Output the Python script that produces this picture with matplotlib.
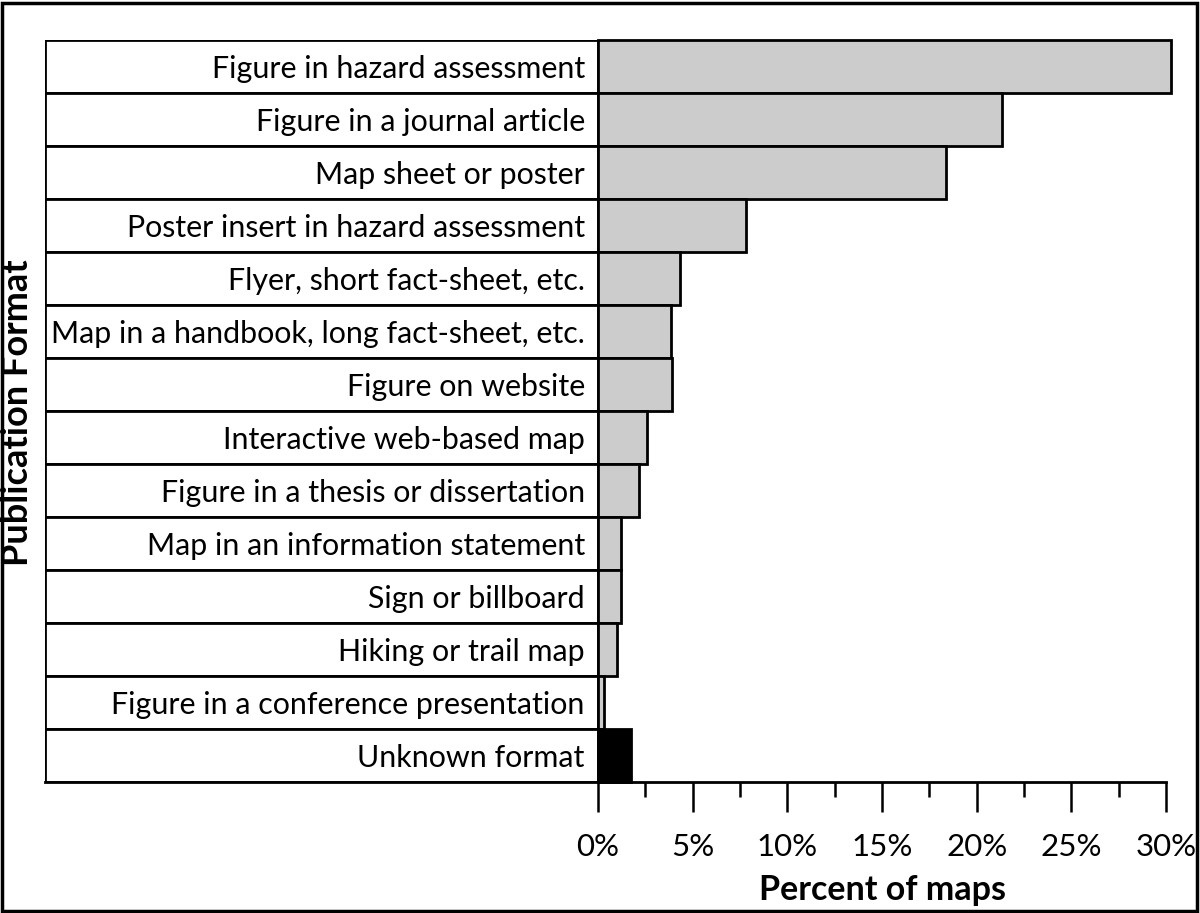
import numpy as np
import matplotlib.pyplot as plt
from matplotlib.patches import Rectangle

plt.rcParams['font.family'] = ['Lato', 'DejaVu Sans']

# Datos
formatos = ['Figure in hazard assessment', 'Figure in a journal article', 'Map sheet or poster',
            'Poster insert in hazard assessment', 'Flyer, short fact-sheet, etc.',
            'Map in a handbook, long fact-sheet, etc.', 'Figure on website',
            'Interactive web-based map', 'Figure in a thesis or dissertation',
            'Map in an information statement', 'Sign or billboard', 'Hiking or trail map',
            'Figure in a conference presentation', 'Unknown format']
porcentajes = [30.27, 21.34, 18.37, 7.83, 4.33, 3.87, 3.9, 2.57, 2.17, 1.2, 1.2, 1.02, 0.3, 1.74]
colores = ['#cccccc'] * 13 + ['black']
ticks = [0, 5, 10, 15, 20, 25, 30]
ticks_menores = [2.5, 7.5, 12.5, 17.5, 22.5, 27.5]

xmin = -29.21   # ancho de la columna de etiquetas
xmax = 30

fig = plt.figure(figsize=(12, 9.13), dpi=100)
ax = fig.add_axes([45/1200, 1-782/913, (1166-45)/1200, (782-40)/913])

y = np.arange(len(formatos))
# cajas de etiquetas
ax.barh(y, [0 - xmin]*len(y), left=xmin, height=1, color='white', edgecolor='black', linewidth=2)
ax.barh(y, porcentajes, height=1, color=colores, edgecolor='black', linewidth=2, clip_on=False)
for i in range(len(y)):
    ax.text(-0.7, y[i] + 0.04, formatos[i], ha='right', va='center', fontsize=21.9)

ax.set_xlim(xmin, xmax)
ax.set_ylim(len(y)-0.5, -0.5)
ax.set_xticks(ticks)
ax.set_xticklabels([str(t) + '%' for t in ticks])
ax.set_xticks(ticks_menores, minor=True)
ax.tick_params(axis='x', which='major', length=21.6, width=1.8, pad=15, labelsize=22.5)
ax.tick_params(axis='x', which='minor', length=10.8, width=1.8)
ax.set_yticks([])
for s in ['top', 'right', 'left']:
    ax.spines[s].set_visible(False)
ax.spines['bottom'].set_linewidth(2)

ax.set_xlabel('Percent of maps', fontsize=24.5, fontweight='bold')
ax.xaxis.set_label_coords((15 - xmin)/(xmax - xmin), -0.1245)
fig.text(18/1200, 1-413/913, 'Publication Format', rotation=90, ha='center', va='center',
         fontsize=26, fontweight='bold')

fig.patches.append(Rectangle((2/1200, 2/913), 1195/1200, 908/913, transform=fig.transFigure,
                             fill=False, edgecolor='black', linewidth=2.5))

fig.savefig('out.png', dpi=100)
